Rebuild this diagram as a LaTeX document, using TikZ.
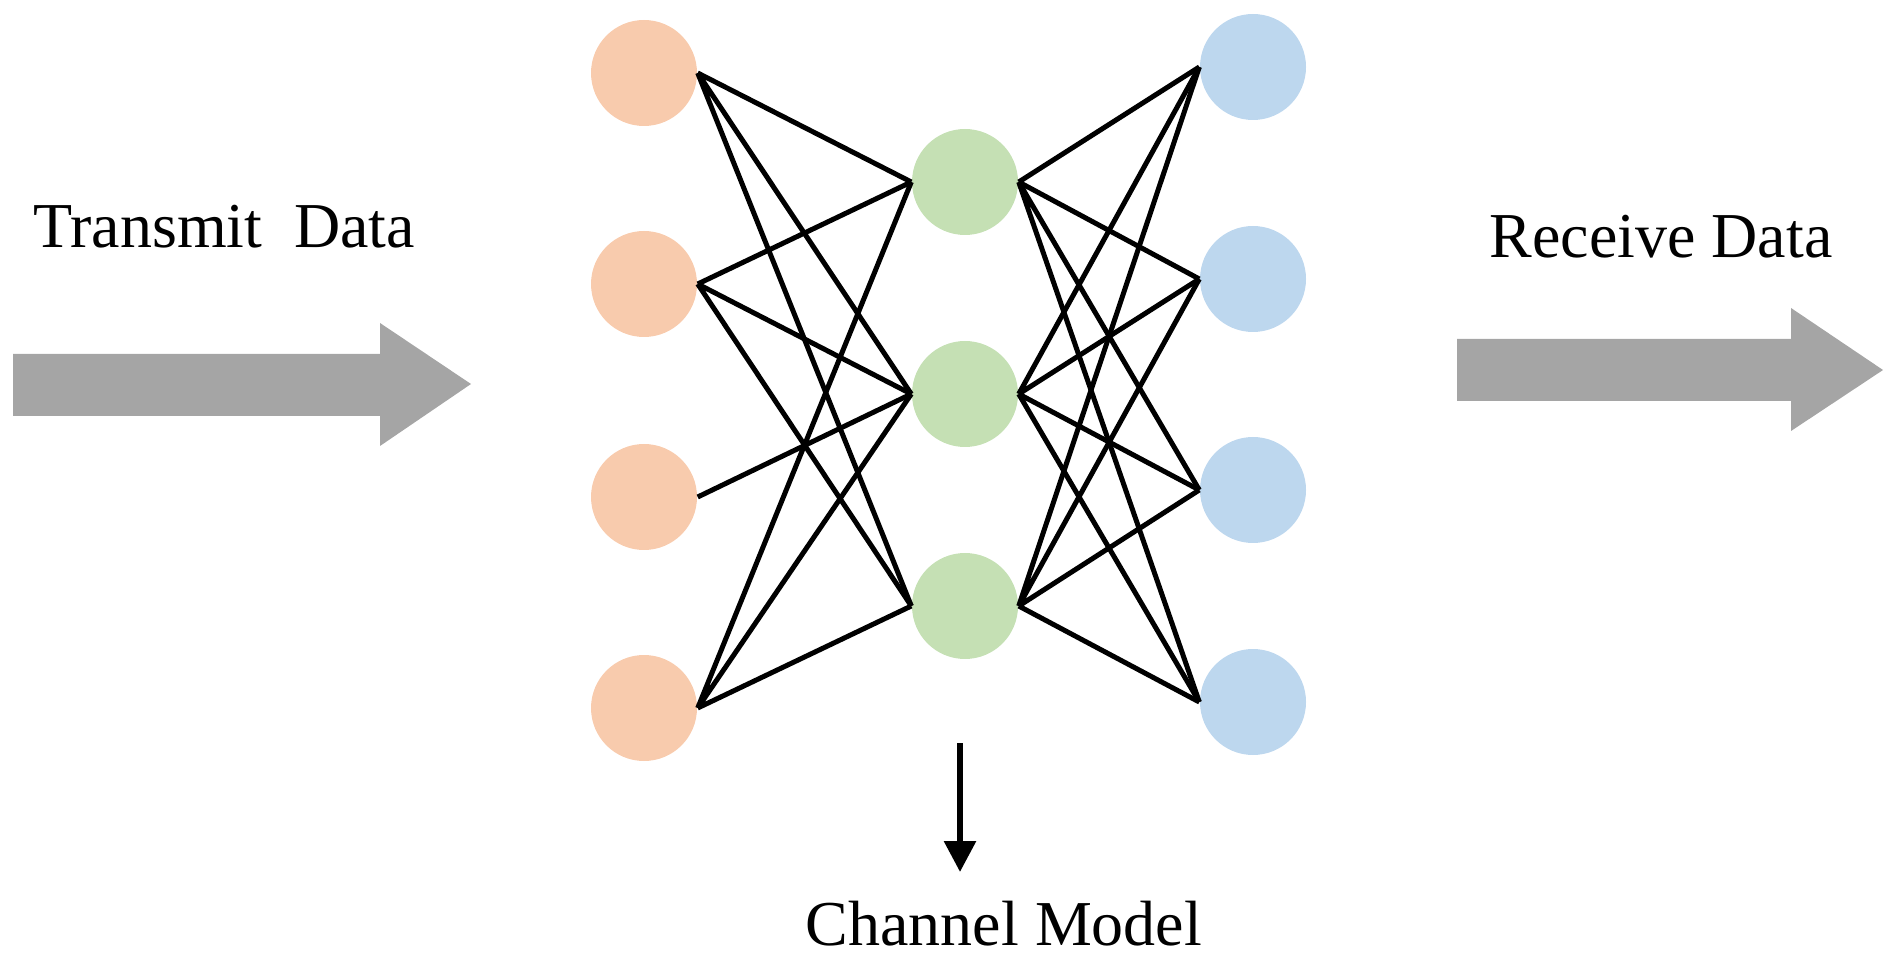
\documentclass[tikz,border=0pt]{standalone}
\usepackage{fontspec}
\setmainfont{Liberation Serif}
\usepackage{tikz}
\usetikzlibrary{arrows.meta,positioning,calc}
\definecolor{inorange}{HTML}{F8CBAD}
\definecolor{hidgreen}{HTML}{C5E0B4}
\definecolor{outblue}{HTML}{BDD7EE}
\definecolor{flowgray}{HTML}{A5A5A5}
\tikzset{
  neuron/.style={circle,minimum size=1.06cm,inner sep=0pt,draw=none},
  wire/.style={line width=0.5mm,black},
  flowarrow/.style={fill=flowgray},
  caption/.style={font=\fontsize{18.2}{22}\selectfont,inner sep=0pt}
}
\begin{document}
\begin{tikzpicture}
        \useasboundingbox (0,0) rectangle (19,-9.65);
        % input layer
        \node[neuron,fill=inorange] (in1) at (6.44,-0.73) {};
        \node[neuron,fill=inorange] (in2) at (6.44,-2.84) {};
        \node[neuron,fill=inorange] (in3) at (6.44,-4.97) {};
        \node[neuron,fill=inorange] (in4) at (6.44,-7.08) {};
        % hidden layer
        \node[neuron,fill=hidgreen] (hid1) at (9.65,-1.82) {};
        \node[neuron,fill=hidgreen] (hid2) at (9.65,-3.94) {};
        \node[neuron,fill=hidgreen] (hid3) at (9.65,-6.06) {};
        % output layer
        \node[neuron,fill=outblue] (out1) at (12.53,-0.67) {};
        \node[neuron,fill=outblue] (out2) at (12.53,-2.79) {};
        \node[neuron,fill=outblue] (out3) at (12.53,-4.90) {};
        \node[neuron,fill=outblue] (out4) at (12.53,-7.02) {};
        % input -> hidden
        \draw[wire] (in1.east) -- (hid1.west) (in1.east) -- (hid2.west) (in1.east) -- (hid3.west);
        \draw[wire] (in2.east) -- (hid1.west) (in2.east) -- (hid2.west) (in2.east) -- (hid3.west);
        \draw[wire] (in3.east) -- (hid2.west);
        \draw[wire] (in4.east) -- (hid1.west) (in4.east) -- (hid2.west) (in4.east) -- (hid3.west);
        % hidden -> output
        \draw[wire] (hid1.east) -- (out1.west) (hid1.east) -- (out2.west) (hid1.east) -- (out3.west) (hid1.east) -- (out4.west);
        \draw[wire] (hid2.east) -- (out1.west) (hid2.east) -- (out2.west) (hid2.east) -- (out3.west) (hid2.east) -- (out4.west);
        \draw[wire] (hid3.east) -- (out1.west) (hid3.east) -- (out2.west) (hid3.east) -- (out3.west) (hid3.east) -- (out4.west);
        % big data arrows
        \fill[flowarrow] (0.13,-3.54) -- (3.80,-3.54) -- (3.80,-3.23) -- (4.71,-3.84)
          -- (3.80,-4.46) -- (3.80,-4.16) -- (0.13,-4.16) -- cycle;
        \fill[flowarrow] (14.57,-3.39) -- (17.91,-3.39) -- (17.91,-3.08) -- (18.83,-3.70)
          -- (17.91,-4.31) -- (17.91,-4.01) -- (14.57,-4.01) -- cycle;
        \node[caption,anchor=base west] (tx) at (0.33,-2.48) {Transmit\ \ Data};
        \node[caption,anchor=base west] (rx) at (14.89,-2.58) {Receive Data};
        % channel model label
        \node[caption,anchor=base] (chan) at (10.04,-9.45) {Channel Model};
        \coordinate (chtop) at (9.60,-7.43);
        \coordinate (chtip) at (9.60,-8.72);
        \draw[line width=0.6mm,arrows = {-Triangle[width=3.1mm,length=3.1mm]}] (chtop) -- (chtip);
\end{tikzpicture}
\end{document}
